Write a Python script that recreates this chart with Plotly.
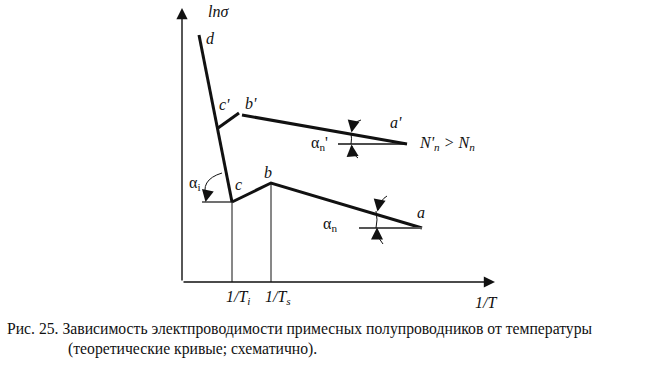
import plotly.graph_objects as go

# ---- data (schematic units: x = 1/T, y = ln sigma) ----
# steep intrinsic branch d -> c
branch_d_x = [1.7, 5.0]
branch_d_y = [24.7, 8.0]
# lower curve c -> b -> a (N_n)
lower_x = [5.0, 8.9, 24.0]
lower_y = [8.0, 9.9, 5.4]
# upper curve c' -> b' and b' -> a' (N'_n)
upper_cb_x = [3.6, 5.7]
upper_cb_y = [15.4, 16.9]
upper_ba_x = [6.0, 22.5]
upper_ba_y = [16.7, 13.8]
# reference horizontals for angles
h_alpha_i = ([2.0, 5.0], [8.0, 8.0])
h_alpha_n = ([17.7, 24.0], [5.4, 5.4])
h_alpha_n2 = ([15.6, 22.5], [13.8, 13.8])
# 1/Ti and 1/Ts drops
Ti = 5.0
Ts = 8.9
x_axis_end = 31.3
y_axis_end = 27.4

labels = [
    ("<i>lnσ</i>", 3.6, 27.1, "center"),
    ("<i>d</i>", 2.8, 24.4, "center"),
    ("<i>c'</i>", 4.2, 17.8, "center"),
    ("<i>b'</i>", 6.9, 17.9, "center"),
    ("<i>a'</i>", 21.4, 16.0, "center"),
    ("<i>N'<sub>n</sub> &gt; N<sub>n</sub></i>", 23.5, 13.9, "left"),
    ("α<sub>n</sub>'", 12.7, 13.9, "left"),
    ("<i>c</i>", 5.6, 9.8, "center"),
    ("<i>b</i>", 8.6, 11.0, "center"),
    ("α<sub>i</sub>", 1.3, 9.9, "center"),
    ("α<sub>n</sub>", 14.8, 5.8, "center"),
    ("<i>a</i>", 23.9, 7.0, "center"),
    ("<i>1/T<sub>i</sub></i>", 5.6, -1.5, "center"),
    ("<i>1/T<sub>s</sub></i>", 9.6, -1.5, "center"),
    ("<i>1/T</i>", 30.4, -2.0, "center"),
]

caption1 = "Рис. 25. Зависимость электпроводимости примесных полупроводников от температуры"
caption2 = "(теоретические кривые; схематично)."

# angle arcs: (start, control, end) and arrow tips
arcs = [
    ((2.5, 8.3), (1.7, 10.2), (4.0, 10.9)),
    ((20.5, 8.6), (19.8, 8.2), (19.6, 7.2)),
    ((19.4, 7.1), (19.6, 6.2), (19.4, 5.4)),
    ((19.5, 5.2), (19.5, 4.4), (20.1, 3.8)),
    ((17.9, 16.2), (17.1, 16.0), (17.0, 15.1)),
    ((16.9, 14.9), (17.0, 14.3), (16.9, 13.8)),
    ((17.0, 13.6), (17.0, 12.8), (17.6, 12.4)),
]
arrow_tips = [
    ((2.35, 8.0), (2.45, 8.5)),
    ((4.1, 10.95), (3.75, 10.75)),
    ((19.55, 7.05), (19.65, 7.6)),
    ((19.5, 5.45), (19.5, 4.9)),
    ((16.95, 14.95), (17.05, 15.5)),
    ((16.95, 13.75), (17.0, 13.2)),
]

X0, X1 = -18.2, 49.0
Y0, Y1 = -8.8, 28.2

SERIF = "Liberation Serif, Times New Roman, DejaVu Serif, serif"

fig = go.Figure()
K = "#111111"

def line(xs, ys, w, color=K):
    fig.add_trace(go.Scatter(x=xs, y=ys, mode="lines",
                             line=dict(color=color, width=w), hoverinfo="skip"))

line(branch_d_x, branch_d_y, 3)
line(lower_x, lower_y, 3)
line(upper_cb_x, upper_cb_y, 3)
line(upper_ba_x, upper_ba_y, 3)
line(*h_alpha_i, 1.2)
line(*h_alpha_n, 2, "#555555")
line(*h_alpha_n2, 1.5)
line([Ti, Ti], [lower_y[0], 0], 1)
line([Ts, Ts], [lower_y[1], 0], 1)

ann = []
# axes with arrows
ann.append(dict(x=x_axis_end, y=0, ax=0, ay=0, xref="x", yref="y", axref="x", ayref="y",
                text="", showarrow=True, arrowhead=2, arrowsize=1.6, arrowwidth=1.4,
                arrowcolor=K, standoff=0))
ann.append(dict(x=0, y=y_axis_end, ax=0, ay=0, xref="x", yref="y", axref="x", ayref="y",
                text="", showarrow=True, arrowhead=2, arrowsize=1.6, arrowwidth=1.4,
                arrowcolor=K, standoff=0))
for tip, tail in arrow_tips:
    ann.append(dict(x=tip[0], y=tip[1], ax=tail[0], ay=tail[1], xref="x", yref="y",
                    axref="x", ayref="y", text="", showarrow=True, arrowhead=2,
                    arrowsize=2.4, arrowwidth=1, arrowcolor=K, standoff=0))

for t, x, y, anc in labels:
    ann.append(dict(x=x, y=y, xref="x", yref="y", text=t, showarrow=False,
                    xanchor=anc, yanchor="middle",
                    font=dict(family=SERIF, size=16, color=K)))

ann.append(dict(x=5 / 672, y=1 - 329 / 370, xref="paper", yref="paper", text=caption1,
                showarrow=False, xanchor="left", yanchor="middle",
                font=dict(family=SERIF, size=15.7, color=K)))
ann.append(dict(x=66 / 672, y=1 - 349 / 370, xref="paper", yref="paper", text=caption2,
                showarrow=False, xanchor="left", yanchor="middle",
                font=dict(family=SERIF, size=15.7, color=K)))

shapes = []
for s, c, e in arcs:
    shapes.append(dict(type="path", xref="x", yref="y",
                       path=f"M {s[0]},{s[1]} Q {c[0]},{c[1]} {e[0]},{e[1]}",
                       line=dict(color=K, width=1)))

fig.update_layout(
    width=672, height=370, margin=dict(l=0, r=0, t=0, b=0),
    paper_bgcolor="white", plot_bgcolor="white", showlegend=False,
    xaxis=dict(range=[X0, X1], visible=False, fixedrange=True),
    yaxis=dict(range=[Y0, Y1], visible=False, fixedrange=True),
    annotations=ann, shapes=shapes,
)

fig.write_html("out.html", config={"displayModeBar": False},
               post_script="document.body.style.margin='0';document.body.style.overflow='hidden';")
